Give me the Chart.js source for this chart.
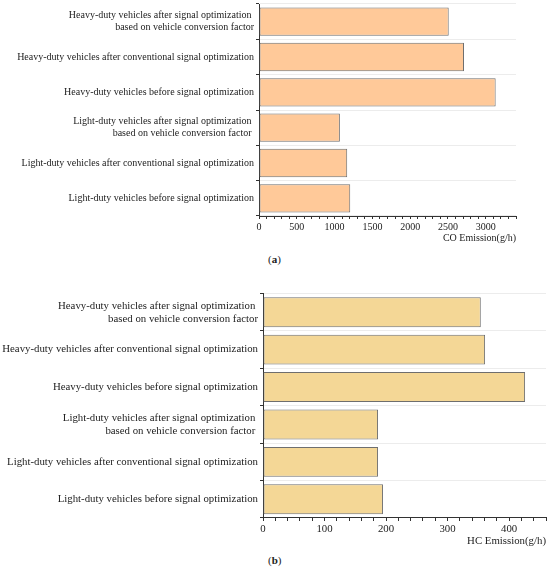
<!DOCTYPE html>
<html>
<head>
<meta charset="utf-8">
<script src="https://cdn.jsdelivr.net/npm/chart.js@4"></script>
<style>
  body { margin: 0; background: #fff; width: 550px; height: 569px; position: relative; overflow: hidden; }
  .box { position: absolute; left: 0; width: 550px; }
  .cap { position: absolute; font-family: "Liberation Serif", serif; font-size: 11px; color: #222; }
</style>
</head>
<body>
<div class="box" style="top:-4px;height:254px"><canvas id="chartA"></canvas></div>
<div class="cap" style="left:268px;top:253px">(<b>a</b>)</div>
<div class="box" style="top:285px;height:265px"><canvas id="chartB"></canvas></div>
<div class="cap" style="left:268px;top:554px">(<b>b</b>)</div>
<script>
const categories = [
  ['Heavy-duty vehicles after signal optimization ', 'based on vehicle conversion factor'],
  'Heavy-duty vehicles after conventional signal optimization',
  'Heavy-duty vehicles before signal optimization',
  ['Light-duty vehicles after signal optimization ', 'based on vehicle conversion factor '],
  'Light-duty vehicles after conventional signal optimization',
  'Light-duty vehicles before signal optimization'
];
const coValues = [2510, 2712, 3131, 1070, 1167, 1207];
const hcValues = [354, 361, 426, 187, 187, 195];

function makeChart(id, values, color, axisTitle, xMax, step, labelStep, fontSize, yWidth, pad, xHeight) {
  const font = { family: 'Liberation Serif', size: fontSize };
  return new Chart(document.getElementById(id), {
    type: 'bar',
    data: {
      labels: categories,
      datasets: [{
        data: values,
        backgroundColor: color,
        borderColor: '#6e6e6e',
        borderWidth: 1,
        borderSkipped: false,
        barPercentage: 0.8,
        categoryPercentage: 1
      }]
    },
    options: {
      indexAxis: 'y',
      responsive: true,
      maintainAspectRatio: false,
      animation: false,
      layout: { padding: pad },
      plugins: { legend: { display: false }, tooltip: { enabled: false } },
      scales: {
        x: {
          min: 0,
          max: xMax,
          afterFit: s => { s.height = xHeight; },
          border: { color: '#333', width: 1 },
          grid: { drawOnChartArea: false, tickLength: 3, tickColor: '#333' },
          ticks: {
            stepSize: step,
            autoSkip: false,
            maxRotation: 0,
            padding: 2,
            color: '#222',
            font: font,
            callback: v => (v % labelStep === 0 ? v : '')
          },
          title: {
            display: true,
            text: axisTitle,
            align: 'end',
            color: '#222',
            font: font,
            padding: { top: 0, bottom: 0 }
          }
        },
        y: {
          afterFit: s => { s.width = yWidth; },
          border: { color: '#333', width: 1 },
          grid: { offset: true, color: '#ececec', tickColor: '#333', tickLength: 3 },
          ticks: { color: '#222', font: font, padding: 2 }
        }
      }
    }
  });
}

makeChart('chartA', coValues, '#ffc999', 'CO Emission(g/h)', 3400, 100, 500, 10, 259,
  { top: 0, right: 34, bottom: 6, left: 0 }, 28);
makeChart('chartB', hcValues, '#f4d796', 'HC Emission(g/h)', 460, 20, 100, 10.8, 263,
  { top: 8, right: 4, bottom: 2, left: 0 }, 30);
</script>
</body>
</html>
